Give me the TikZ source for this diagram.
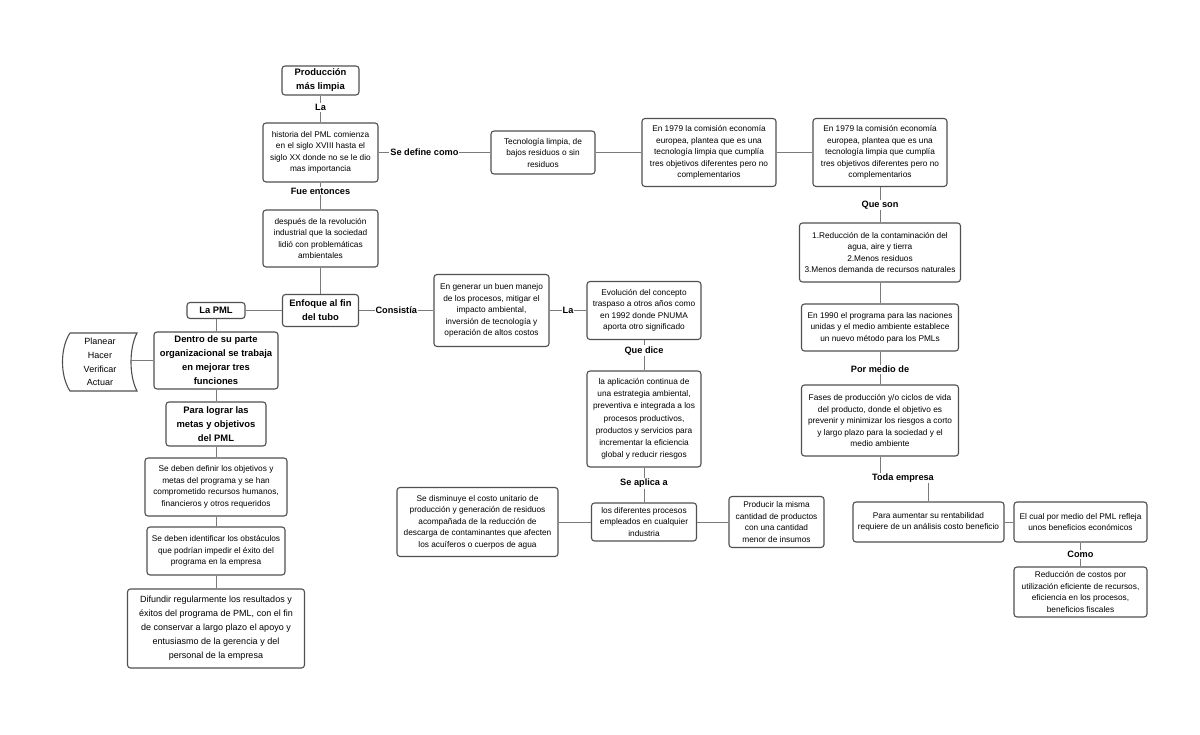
\documentclass[tikz,border=0pt]{standalone}
\usepackage{fontspec}
\setmainfont{Liberation Sans}
\usepackage{tikz}

\definecolor{boxgray}{HTML}{505050}
\definecolor{linegray}{HTML}{7A7A7A}

\begin{document}
\begin{tikzpicture}[x=1pt,y=-1pt,
  box/.style={draw=boxgray, line width=1.1pt, rounded corners=3pt, align=center, inner sep=2pt, font=\fontsize{8.3}{11.5}\selectfont},
  bbox/.style={box, font=\bfseries\fontsize{9.4}{14}\selectfont},
  lbl/.style={fill=white, inner sep=1pt, font=\bfseries\fontsize{9.2}{11}\selectfont},
  con/.style={draw=linegray, line width=1pt}]
\useasboundingbox (0,0) rectangle (1200,735);

% centre column
\node[bbox, minimum width=77, minimum height=29] (prod) at (320.5,80.5) {Producción\\más limpia};
\node[box, minimum width=115, minimum height=59] (hist) at (320.5,152.5) {historia del PML comienza\\en el siglo XVIII hasta el\\siglo XX donde no se le dio\\mas importancia};
\node[box, minimum width=115, minimum height=57] (desp) at (320.5,238.5) {después de la revolución\\industrial que la sociedad\\lidió con problemáticas\\ambientales};
\node[bbox, minimum width=76, minimum height=32] (enf) at (320.5,310.5) {Enfoque al fin\\del tubo};

% top row
\node[box, minimum width=104, minimum height=43] (tec) at (543,152.5) {Tecnología limpia, de\\bajos residuos o sin\\residuos};
\node[box, minimum width=134, minimum height=68] (eura) at (709,152.5) {En 1979 la comisión economía\\europea, plantea que es una\\tecnología limpia que cumplía\\tres objetivos diferentes pero no\\complementarios};
\node[box, minimum width=134, minimum height=68] (eurb) at (880,152.5) {En 1979 la comisión economía\\europea, plantea que es una\\tecnología limpia que cumplía\\tres objetivos diferentes pero no\\complementarios};

% right column
\node[box, minimum width=161, minimum height=59] (lista) at (880,252.5) {1.Reducción de la contaminación del\\agua, aire y tierra\\2.Menos residuos\\3.Menos demanda de recursos naturales};
\node[box, minimum width=157, minimum height=47] (onu) at (880,327.5) {En 1990 el programa para las naciones\\unidas y el medio ambiente establece\\un nuevo método para los PMLs};
\node[box, minimum width=157, minimum height=71] (fases) at (880,420.5) {Fases de producción y/o ciclos de vida\\del producto, donde el objetivo es\\prevenir y minimizar los riesgos a corto\\y largo plazo para la sociedad y el\\medio ambiente};
\node[lbl] (toda) at (903,478) {Toda empresa};
\node[box, minimum width=151, minimum height=40] (aum) at (928.5,522) {Para aumentar su rentabilidad\\requiere de un análisis costo beneficio};
\node[box, minimum width=133, minimum height=40] (cual) at (1080.5,522) {El cual por medio del PML refleja\\unos beneficios económicos};
\node[box, minimum width=133, minimum height=50] (red) at (1080.5,592) {Reducción de costos por\\utilización eficiente de recursos,\\eficiencia en los procesos,\\beneficios fiscales};

% middle
\node[box, minimum width=115, minimum height=72] (gen) at (491.5,310.5) {En generar un buen manejo\\de los procesos, mitigar el\\impacto ambiental,\\inversión de tecnología y\\operación de altos costos};
\node[box, minimum width=114, minimum height=58] (evo) at (644,310.5) {Evolución del concepto\\traspaso a otros años como\\en 1992 donde PNUMA\\aporta otro significado};
\node[box, minimum width=114, minimum height=96, font=\fontsize{8.3}{12.2}\selectfont] (apl) at (644,419) {la aplicación continua de\\una estrategia ambiental,\\preventiva e integrada a los\\procesos productivos,\\productos y servicios para\\incrementar la eficiencia\\global y reducir riesgos};
\node[box, minimum width=105, minimum height=38] (dif) at (644,522) {los diferentes procesos\\empleados en cualquier\\industria};
\node[box, minimum width=161, minimum height=69] (dism) at (477.5,522) {Se disminuye el costo unitario de\\producción y generación de residuos\\acompañada de la reducción de\\descarga de contaminantes que afecten\\los acuíferos o cuerpos de agua};
\node[box, minimum width=95, minimum height=51] (insu) at (776.5,522) {Producir la misma\\cantidad de productos\\con una cantidad\\menor de insumos};

% left column
\node[bbox, minimum width=58, minimum height=16, inner ysep=1pt] (lapml) at (216,310.5) {La PML};
\node[bbox, minimum width=124, minimum height=57] (dentro) at (216,360.5) {Dentro de su parte\\organizacional se trabaja\\en mejorar tres\\funciones};
\node[bbox, minimum width=100, minimum height=44] (lograr) at (216,424) {Para lograr las\\metas y objetivos\\del PML};
\node[box, minimum width=142, minimum height=58] (defin) at (216,487) {Se deben definir los objetivos y\\metas del programa y se han\\comprometido recursos humanos,\\financieros y otros requeridos};
\node[box, minimum width=138, minimum height=48] (ident) at (216,551) {Se deben identificar los obstáculos\\que podrían impedir el éxito del\\programa en la empresa};
\node[box, minimum width=177, minimum height=79, font=\fontsize{9}{14}\selectfont] (difun) at (216,628.5) {Difundir regularmente los resultados y\\éxitos del programa de PML, con el fin\\de conservar a largo plazo el apoyo y\\entusiasmo de la gerencia y del\\personal de la empresa};

% PHVA
\draw[draw=boxgray, line width=1.1pt] (70,333) -- (137,333) .. controls (129,348) and (129,376) .. (137,391) -- (70,391) .. controls (60,376) and (60,348) .. (70,333);
\node[align=center, font=\fontsize{9}{13.7}\selectfont] (phva) at (100,362) {Planear\\Hacer\\Verificar\\Actuar};
\coordinate (phvaside) at (131,360.5);

% connectors
\draw[con] (prod) -- node[lbl, pos=.45] {La} (hist);
\draw[con] (hist) -- node[lbl, pos=.41] {Se define como} (tec);
\draw[con] (hist) -- node[lbl, pos=.32] {Fue entonces} (desp);
\draw[con] (desp) -- (enf);
\draw[con] (tec) -- (eura);
\draw[con] (eura) -- (eurb);
\draw[con] (eurb) -- node[lbl] {Que son} (lista);
\draw[con] (lista) -- (onu);
\draw[con] (onu) -- node[lbl, pos=.55] {Por medio de} (fases);
\draw[con] (fases.south) -- (fases.south |- toda.north);
\draw[con] (toda.south -| aum.north) -- (aum.north);
\draw[con] (aum) -- (cual);
\draw[con] (cual) -- node[lbl] {Como} (red);
\draw[con] (enf) -- node[lbl] {Consistía} (gen);
\draw[con] (gen) -- node[lbl] {La} (evo);
\draw[con] (evo) -- node[lbl, pos=.35] {Que dice} (apl);
\draw[con] (apl) -- node[lbl, pos=.45] {Se aplica a} (dif);
\draw[con] (dism) -- (dif);
\draw[con] (dif) -- (insu);
\draw[con] (enf) -- (lapml);
\draw[con] (lapml) -- (dentro);
\draw[con] (phvaside) -- (dentro);
\draw[con] (dentro) -- (lograr);
\draw[con] (lograr) -- (defin);
\draw[con] (defin) -- (ident);
\draw[con] (ident) -- (difun);
\end{tikzpicture}
\end{document}
